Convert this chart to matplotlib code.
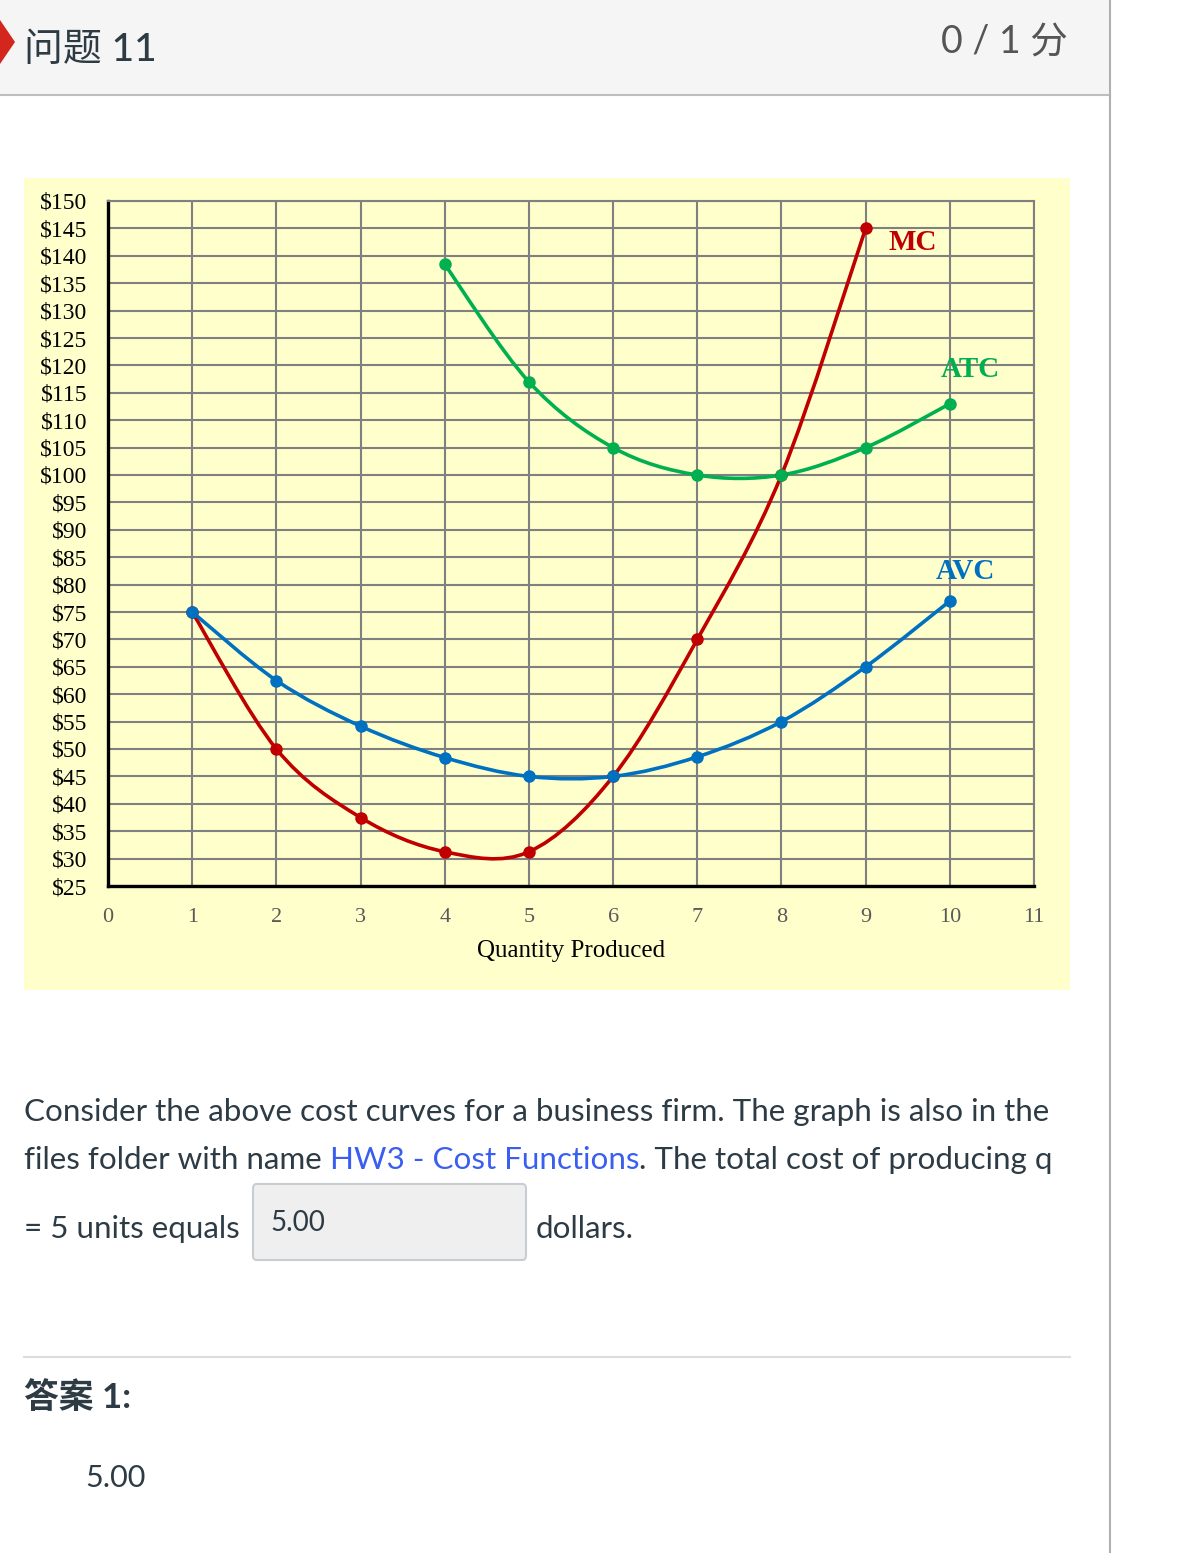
import matplotlib
matplotlib.use("Agg")
import matplotlib.pyplot as plt
from matplotlib.path import Path
from matplotlib.patches import PathPatch, Polygon, Rectangle, FancyBboxPatch
from matplotlib.lines import Line2D

# --- dados do gráfico ---
qtd = [1, 2, 3, 4, 5, 6, 7, 8, 9, 10]
mc_x = [1, 2, 3, 4, 5, 6, 7, 8, 9]
mc_y = [75, 50, 37.5, 31.25, 31.25, 45, 70, 100, 145]
avc_y = [75, 62.5, 54.17, 48.44, 45, 45, 48.57, 55, 65, 77]
atc_x = [4, 5, 6, 7, 8, 9, 10]
atc_y = [138.44, 117, 105, 100.0, 100, 105, 113]
y_ticks = list(range(25, 151, 5))
x_ticks = list(range(0, 12))

W, H = 1180, 1553
DARK = "#2d3b45"
SERIF = "Liberation Serif"
SANS = ["Lato", "Noto Sans CJK SC", "DejaVu Sans"]

fig = plt.figure(figsize=(W / 100, H / 100), dpi=100)
fig.patch.set_facecolor("white")


def fx(x):
    return x / W


def fy(y):
    return 1 - y / H


def rect(x0, y0, x1, y1, **kw):
    fig.patches.append(Rectangle((fx(x0), fy(y1)), fx(x1 - x0), (y1 - y0) / H,
                                 transform=fig.transFigure, zorder=-5, **kw))


def smooth(ax, xs, ys, color):
    # curva suave estilo Excel (Catmull-Rom -> Bezier)
    pts = list(zip(xs, ys))
    verts = [pts[0]]
    codes = [Path.MOVETO]
    n = len(pts)
    for i in range(n - 1):
        p0 = pts[i - 1] if i > 0 else pts[i]
        p1 = pts[i]
        p2 = pts[i + 1]
        p3 = pts[i + 2] if i + 2 < n else pts[i + 1]
        c1 = (p1[0] + (p2[0] - p0[0]) / 6, p1[1] + (p2[1] - p0[1]) / 6)
        c2 = (p2[0] - (p3[0] - p1[0]) / 6, p2[1] - (p3[1] - p1[1]) / 6)
        verts += [c1, c2, p2]
        codes += [Path.CURVE4] * 3
    ax.add_patch(PathPatch(Path(verts, codes), fill=False, edgecolor=color,
                           lw=2.6, zorder=3, capstyle="round"))
    ax.plot(xs, ys, "o", color=color, ms=8, zorder=4)


# --- cabeçalho ---
rect(0, 0, 1110, 95, facecolor="#f5f5f5", edgecolor="none")
fig.add_artist(Line2D([0, fx(1110)], [fy(95), fy(95)], color="#bdbdbd", lw=1.5,
                      transform=fig.transFigure))
fig.add_artist(Line2D([fx(1110), fx(1110)], [0, 1], color="#b0b0b0", lw=1.5,
                      transform=fig.transFigure))
fig.patches.append(Polygon([(fx(0), fy(20)), (fx(15), fy(42)), (fx(0), fy(64))],
                           closed=True, facecolor="#d3261c", edgecolor="none",
                           transform=fig.transFigure))
fig.text(fx(24), fy(50), "问题 11", family=SANS, fontsize=28, color=DARK,
         weight="medium", va="center", ha="left")
fig.text(fx(1068), fy(42), "0 / 1 分", family=SANS, fontsize=27, color="#555555",
         va="center", ha="right")

# --- fundo amarelo do gráfico ---
rect(24, 178, 1070, 990, facecolor="#ffffcc", edgecolor="none")

ax = fig.add_axes([fx(108), fy(886), fx(1034 - 108), (886 - 201) / H])
ax.set_zorder(2)
ax.set_facecolor("#ffffcc")
ax.set_xlim(0, 11)
ax.set_ylim(25, 150)
ax.set_xticks(x_ticks)
ax.set_yticks(y_ticks)
ax.set_xticklabels([str(v) for v in x_ticks], family=SERIF, fontsize=16,
                   color="#595959")
ax.set_yticklabels([f"${v}" for v in y_ticks], family=SERIF, fontsize=17,
                   color="black")
ax.tick_params(length=0)
ax.tick_params(axis="y", pad=15)
ax.tick_params(axis="x", pad=16)
ax.grid(True, color="#808080", lw=1.5, zorder=1)
ax.set_axisbelow(True)
for s in ["top", "right"]:
    ax.spines[s].set_color("#808080")
    ax.spines[s].set_linewidth(1.5)
for s in ["left", "bottom"]:
    ax.spines[s].set_color("black")
    ax.spines[s].set_linewidth(2.4)
ax.set_xlabel("Quantity Produced", family=SERIF, fontsize=18, color="black",
              labelpad=9)

smooth(ax, mc_x, mc_y, "#c00000")
smooth(ax, qtd, avc_y, "#0070c0")
smooth(ax, atc_x, atc_y, "#00b050")

ax.text(9.56, 142.5, "MC", family=SERIF, fontsize=21, weight="bold",
        color="#c00000", ha="center", va="center")
ax.text(10.24, 119.3, "ATC", family=SERIF, fontsize=21, weight="bold",
        color="#00b050", ha="center", va="center")
ax.text(10.19, 82.3, "AVC", family=SERIF, fontsize=21, weight="bold",
        color="#0070c0", ha="center", va="center")

# --- texto da questão ---
FS = 22.6
fig.text(fx(24), fy(1112), "Consider the above cost curves for a business firm. "
         "The graph is also in the", family=SANS, fontsize=FS, color=DARK,
         va="center", ha="left")

renderer = fig.canvas.get_renderer()
x_cur = 24
for txt, col in [("files folder with name ", DARK),
                 ("HW3 - Cost Functions", "#3a5ef0"),
                 (". The total cost of producing q", DARK)]:
    t = fig.text(fx(x_cur), fy(1160), txt, family=SANS, fontsize=FS, color=col,
                 va="center", ha="left")
    bb = t.get_window_extent(renderer)
    x_cur += bb.width

fig.text(fx(24), fy(1229), "= 5 units equals", family=SANS, fontsize=FS,
         color=DARK, va="center", ha="left")
fig.patches.append(FancyBboxPatch((fx(253), fy(1260)), fx(526 - 253),
                                  (1260 - 1184) / H,
                                  boxstyle="round,pad=0,rounding_size=0.003",
                                  facecolor="#efefef", edgecolor="#c7cdd1",
                                  lw=1.5, transform=fig.transFigure))
fig.text(fx(270), fy(1223), "5.00", family=SANS, fontsize=20, color=DARK,
         va="center", ha="left")
fig.text(fx(536), fy(1229), "dollars.", family=SANS, fontsize=FS, color=DARK,
         va="center", ha="left")

fig.add_artist(Line2D([fx(24), fx(1070)], [fy(1357), fy(1357)], color="#dddddd",
                      lw=1.5, transform=fig.transFigure))
fig.text(fx(24), fy(1398), "答案 1:", family=SANS, fontsize=25, weight="bold",
         color=DARK, va="center", ha="left")
fig.text(fx(85), fy(1478), "5.00", family=SANS, fontsize=22, color=DARK,
         va="center", ha="left")

fig.savefig("out.png", dpi=100)
